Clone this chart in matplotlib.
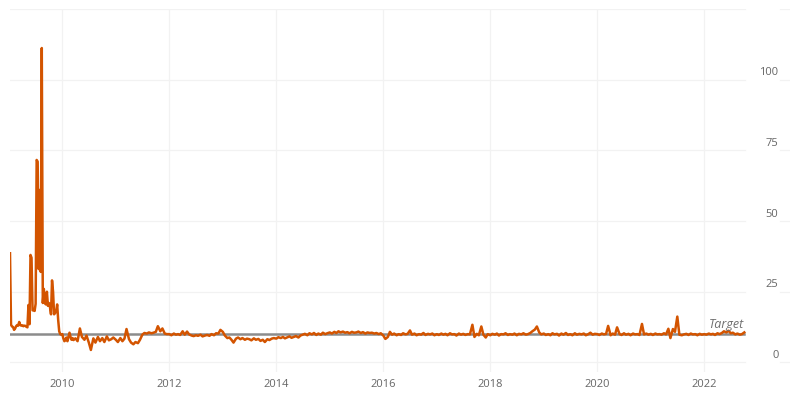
import numpy as np
import pandas as pd
import matplotlib
matplotlib.use("Agg")
from matplotlib import pyplot as plt
import matplotlib.transforms as mtransforms

plt.rcParams['font.family'] = ['Open Sans', 'DejaVu Sans']

# weekly readings, Jan 2009 - Mar 2010
early_values = [
    38.6, 13.3, 12.7, 12.5, 11.5, 12.0, 12.8, 13.2, 13.0, 14.3,
    13.2, 13.0, 13.1, 12.8, 13.0, 12.9, 12.6, 12.4, 20.3, 13.5,
    38.0, 37.0, 18.4, 18.6, 18.2, 20.7, 71.6, 71.0, 33.0, 61.0,
    32.0, 111.2, 21.0, 26.0, 21.0, 20.5, 25.0, 20.0, 21.0, 19.5,
    17.0, 29.0, 25.0, 17.0, 17.5, 18.0, 20.5, 15.0, 11.0, 10.0,
    9.8, 10.0, 8.5, 7.5, 7.8, 8.8, 7.5, 9.0, 10.5, 9.0,
    8.0, 8.6, 7.9, 8.3,
]

# twice-monthly readings, Apr 2010 - Oct 2022
v2010 = [8.5, 7.5, 12.0, 9.0, 8.0, 9.5, 7.0, 4.4, 8.5, 7.0, 9.0, 7.5,
         8.6, 7.2, 9.2, 7.8, 8.2, 8.8]
v2011 = [8.0, 7.2, 8.6, 7.5, 8.4, 11.8, 8.2, 7.0, 6.4, 7.2, 6.8, 8.0,
         9.8, 10.4, 10.2, 10.6, 10.3, 10.5, 10.8, 12.8, 11.0, 12.0, 10.2, 10.0]
v2012 = [10.0, 9.6, 10.2, 9.8, 10.0, 9.7, 11.0, 9.8, 10.9, 9.9, 9.5, 9.3,
         9.6, 9.4, 9.8, 9.2, 9.5, 9.7, 9.4, 10.0, 9.6, 10.3, 10.2, 11.5]
v2013 = [10.8, 9.5, 8.6, 8.8, 8.0, 7.0, 8.4, 8.8, 8.2, 8.6, 8.0, 8.4,
         8.2, 7.8, 8.5, 8.0, 8.3, 7.6, 8.0, 7.2, 8.2, 7.9, 8.4, 8.6]
v2014 = [8.4, 8.9, 8.6, 9.0, 8.5, 8.8, 9.2, 8.7, 9.0, 9.3, 8.8, 9.5,
         9.8, 10.1, 9.6, 10.3, 9.9, 10.4, 9.7, 10.2, 9.8, 10.5, 10.0, 10.3]
v2015 = [10.6, 10.2, 10.8, 10.4, 11.0, 10.6, 10.9, 10.5, 10.7, 10.3, 10.8, 10.5,
         10.6, 10.9, 10.4, 10.7, 10.2, 10.6, 10.4, 10.5, 10.2, 10.4, 10.0, 10.3]
v2016 = [9.5, 8.3, 9.0, 10.8, 9.8, 10.2, 9.6, 10.0, 9.7, 10.3, 9.9, 10.1,
         11.3, 9.8, 10.2, 9.6, 10.0, 9.8, 10.4, 9.7, 10.1, 9.9, 10.2, 9.6]
v2017 = [10.0, 9.7, 10.2, 9.8, 10.1, 9.6, 10.3, 9.9, 10.0, 9.5, 10.2, 9.8,
         10.1, 9.7, 10.0, 9.9, 13.3, 9.0, 10.1, 9.6, 12.7, 9.8, 8.8, 10.0]
v2018 = [9.6, 10.1, 9.8, 10.2, 9.5, 10.0, 9.9, 10.3, 9.7, 10.0, 9.8, 10.2,
         9.6, 10.1, 9.9, 10.3, 9.8, 10.0, 10.4, 11.0, 11.6, 12.7, 10.6, 9.9]
v2019 = [10.2, 9.7, 10.0, 9.6, 10.3, 9.9, 10.1, 9.5, 10.2, 9.8, 10.4, 9.7,
         10.0, 9.6, 10.3, 9.8, 10.1, 9.9, 10.2, 9.6, 10.0, 10.5, 9.8, 10.1]
v2020 = [10.0, 9.7, 10.2, 9.9, 10.1, 12.9, 9.6, 10.2, 9.8, 12.4, 10.0, 9.7,
         10.3, 9.8, 10.1, 9.6, 10.2, 9.9, 10.0, 9.7, 13.6, 9.9, 10.2, 9.8]
v2021 = [10.1, 9.7, 10.2, 9.9, 10.0, 9.8, 10.3, 9.9, 11.9, 8.6, 11.8, 10.8,
         16.2, 9.8, 9.6, 9.9, 10.1, 9.7, 10.2, 9.9, 10.0, 9.6, 10.1, 9.8]
v2022 = [10.0, 9.8, 10.2, 9.9, 10.1, 9.7, 10.3, 10.0, 10.4, 11.0, 10.6, 11.2,
         10.3, 10.5, 9.9, 10.2, 9.8, 10.0, 10.6]

target = 10
y_ticks = [0, 25, 50, 75, 100]
x_ticks = [2010, 2012, 2014, 2016, 2018, 2020, 2022]

late_values = v2010 + v2011 + v2012 + v2013 + v2014 + v2015 + v2016 + \
    v2017 + v2018 + v2019 + v2020 + v2021 + v2022

early_dates = pd.date_range('2009-01-09', periods=len(early_values), freq='7D')
late_dates = pd.date_range('2010-04-01', periods=len(late_values), freq='SMS')
dates = early_dates.append(late_dates)


def decimal_year(d):
    return d.year + (d.dayofyear - 1) / 365.25


x = np.asarray(decimal_year(dates))
y = np.array(early_values + late_values)

fig = plt.figure(figsize=(8, 4), dpi=100)
ax = fig.add_axes([10 / 800, 1 - 372 / 400, 780 / 800, 363 / 400])

grid_col = '#f2f2f2'
ax.set_xlim(2009.022, 2023.602)
ax.set_ylim(-3.4, 125)

# horizontal gridlines, broken where the value label sits
end_frac = (745 - 10) / 780
gap_frac = (780 - 10) / 780
for v in y_ticks + [125]:
    ax.axhline(v, xmin=0, xmax=end_frac, color=grid_col, lw=0.9, zorder=0)
    ax.axhline(v, xmin=gap_frac, xmax=1, color=grid_col, lw=0.9, zorder=0)
for v in x_ticks:
    ax.axvline(v, color=grid_col, lw=0.9, zorder=0)

ax.plot([x[0], x[-1]], [target, target], color='#8c8c8c', lw=1.8, zorder=2)
ax.plot(x, y, color='#d35400', lw=1.8, zorder=3, solid_joinstyle='round')
ax.text(x[-1], target + 1.0, 'Target', ha='right', va='bottom', fontsize=9,
        style='italic', color='#6f6f6f')

trans = mtransforms.blended_transform_factory(ax.transAxes, ax.transData)
for v in y_ticks:
    ax.annotate(str(v), xy=(0.987, v), xycoords=trans, xytext=(-1, 5),
                textcoords='offset points', ha='right', va='center',
                fontsize=8, color='#666666')

ax.set_xticks(x_ticks)
ax.set_xticklabels([str(t) for t in x_ticks], fontsize=8, color='#666666')
ax.tick_params(axis='x', length=0, pad=5)
ax.set_yticks([])
for s in ax.spines.values():
    s.set_visible(False)

fig.savefig('out.png', dpi=100)
